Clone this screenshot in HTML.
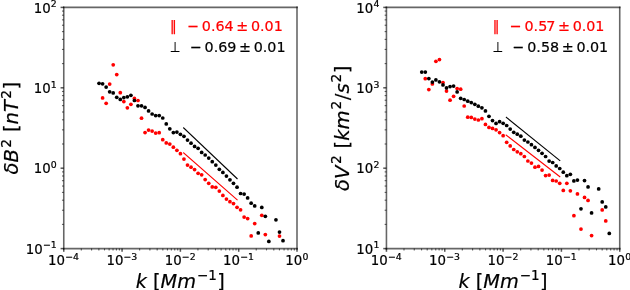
<!DOCTYPE html>
<html><head><meta charset="utf-8"><title>Power spectra</title>
<style>html,body{margin:0;padding:0;background:#fff;overflow:hidden}svg{display:block} svg text{stroke:#000;stroke-width:0.15px;stroke-linejoin:round} svg g[style*="ff0000"] text{stroke:#f00}</style>
</head><body>
<svg width="630" height="290" viewBox="0 0 453.6 208.8">
<defs>
<style type="text/css">*{stroke-linejoin: round; stroke-linecap: butt}</style>
</defs>
<g id="figure_1">
<g id="patch_1">
<path d="M 0 208.8 
L 453.6 208.8 
L 453.6 0 
L 0 0 
z
" style="fill: #ffffff"/>
</g>
<g id="axes_1">
<g id="patch_2">
<path d="M 45.9072 178.992 
L 213.84 178.992 
L 213.84 5.328 
L 45.9072 5.328 
z
" style="fill: #ffffff"/>
</g>
<g id="matplotlib.axis_1">
<g id="xtick_1">
<g id="line2d_1">
<g>
<path d="M 0 0 
L 0 2.3 
" transform="translate(45.9072 178.992)" style="fill-opacity: 0.66; stroke: #000000; stroke-opacity: 0.66; stroke-width: 1.1"/>
</g>
</g>
<g id="text_1">
<g transform="translate(34.6272 191.6865)">
<text>
<tspan x="0" y="-0.9766" style="font-size: 9.6px; font-family: 'DejaVu Sans', sans-serif">1</tspan>
<tspan x="6.123718" y="-0.9766" style="font-size: 9.6px; font-family: 'DejaVu Sans', sans-serif">0</tspan>
<tspan x="12.34314" y="-4.8047" style="font-size: 6.72px; font-family: 'DejaVu Sans', sans-serif">−</tspan>
<tspan x="17.988428" y="-4.8047" style="font-size: 6.72px; font-family: 'DejaVu Sans', sans-serif">4</tspan>
</text>
</g>
</g>
</g>
<g id="xtick_2">
<g id="line2d_2">
<g>
<path d="M 0 0 
L 0 2.3 
" transform="translate(87.8904 178.992)" style="fill-opacity: 0.66; stroke: #000000; stroke-opacity: 0.66; stroke-width: 1.1"/>
</g>
</g>
<g id="text_2">
<g transform="translate(76.6104 191.6865)">
<text>
<tspan x="0" y="-0.9766" style="font-size: 9.6px; font-family: 'DejaVu Sans', sans-serif">1</tspan>
<tspan x="6.123718" y="-0.9766" style="font-size: 9.6px; font-family: 'DejaVu Sans', sans-serif">0</tspan>
<tspan x="12.34314" y="-4.8047" style="font-size: 6.72px; font-family: 'DejaVu Sans', sans-serif">−</tspan>
<tspan x="17.988428" y="-4.8047" style="font-size: 6.72px; font-family: 'DejaVu Sans', sans-serif">3</tspan>
</text>
</g>
</g>
</g>
<g id="xtick_3">
<g id="line2d_3">
<g>
<path d="M 0 0 
L 0 2.3 
" transform="translate(129.8736 178.992)" style="fill-opacity: 0.66; stroke: #000000; stroke-opacity: 0.66; stroke-width: 1.1"/>
</g>
</g>
<g id="text_3">
<g transform="translate(118.5936 191.6865)">
<text>
<tspan x="0" y="-0.9766" style="font-size: 9.6px; font-family: 'DejaVu Sans', sans-serif">1</tspan>
<tspan x="6.123718" y="-0.9766" style="font-size: 9.6px; font-family: 'DejaVu Sans', sans-serif">0</tspan>
<tspan x="12.34314" y="-4.8047" style="font-size: 6.72px; font-family: 'DejaVu Sans', sans-serif">−</tspan>
<tspan x="17.988428" y="-4.8047" style="font-size: 6.72px; font-family: 'DejaVu Sans', sans-serif">2</tspan>
</text>
</g>
</g>
</g>
<g id="xtick_4">
<g id="line2d_4">
<g>
<path d="M 0 0 
L 0 2.3 
" transform="translate(171.8568 178.992)" style="fill-opacity: 0.66; stroke: #000000; stroke-opacity: 0.66; stroke-width: 1.1"/>
</g>
</g>
<g id="text_4">
<g transform="translate(160.5768 191.6865)">
<text>
<tspan x="0" y="-0.9766" style="font-size: 9.6px; font-family: 'DejaVu Sans', sans-serif">1</tspan>
<tspan x="6.123718" y="-0.9766" style="font-size: 9.6px; font-family: 'DejaVu Sans', sans-serif">0</tspan>
<tspan x="12.34314" y="-4.8047" style="font-size: 6.72px; font-family: 'DejaVu Sans', sans-serif">−</tspan>
<tspan x="17.988428" y="-4.8047" style="font-size: 6.72px; font-family: 'DejaVu Sans', sans-serif">1</tspan>
</text>
</g>
</g>
</g>
<g id="xtick_5">
<g id="line2d_5">
<g>
<path d="M 0 0 
L 0 2.3 
" transform="translate(213.84 178.992)" style="fill-opacity: 0.66; stroke: #000000; stroke-opacity: 0.66; stroke-width: 1.1"/>
</g>
</g>
<g id="text_5">
<g transform="translate(205.392 191.6865)">
<text>
<tspan x="0" y="-0.9766" style="font-size: 9.6px; font-family: 'DejaVu Sans', sans-serif">1</tspan>
<tspan x="6.123718" y="-0.9766" style="font-size: 9.6px; font-family: 'DejaVu Sans', sans-serif">0</tspan>
<tspan x="12.34314" y="-4.8047" style="font-size: 6.72px; font-family: 'DejaVu Sans', sans-serif">0</tspan>
</text>
</g>
</g>
</g>
<g id="xtick_6">
<g id="line2d_6">
<g>
<path d="M 0 0 
L 0 1.3 
" transform="translate(58.545403 178.992)" style="fill-opacity: 0.6; stroke: #000000; stroke-opacity: 0.6; stroke-width: 0.8"/>
</g>
</g>
</g>
<g id="xtick_7">
<g id="line2d_7">
<g>
<path d="M 0 0 
L 0 1.3 
" transform="translate(65.938277 178.992)" style="fill-opacity: 0.6; stroke: #000000; stroke-opacity: 0.6; stroke-width: 0.8"/>
</g>
</g>
</g>
<g id="xtick_8">
<g id="line2d_8">
<g>
<path d="M 0 0 
L 0 1.3 
" transform="translate(71.183605 178.992)" style="fill-opacity: 0.6; stroke: #000000; stroke-opacity: 0.6; stroke-width: 0.8"/>
</g>
</g>
</g>
<g id="xtick_9">
<g id="line2d_9">
<g>
<path d="M 0 0 
L 0 1.3 
" transform="translate(75.252197 178.992)" style="fill-opacity: 0.6; stroke: #000000; stroke-opacity: 0.6; stroke-width: 0.8"/>
</g>
</g>
</g>
<g id="xtick_10">
<g id="line2d_10">
<g>
<path d="M 0 0 
L 0 1.3 
" transform="translate(78.57648 178.992)" style="fill-opacity: 0.6; stroke: #000000; stroke-opacity: 0.6; stroke-width: 0.8"/>
</g>
</g>
</g>
<g id="xtick_11">
<g id="line2d_11">
<g>
<path d="M 0 0 
L 0 1.3 
" transform="translate(81.38712 178.992)" style="fill-opacity: 0.6; stroke: #000000; stroke-opacity: 0.6; stroke-width: 0.8"/>
</g>
</g>
</g>
<g id="xtick_12">
<g id="line2d_12">
<g>
<path d="M 0 0 
L 0 1.3 
" transform="translate(83.821808 178.992)" style="fill-opacity: 0.6; stroke: #000000; stroke-opacity: 0.6; stroke-width: 0.8"/>
</g>
</g>
</g>
<g id="xtick_13">
<g id="line2d_13">
<g>
<path d="M 0 0 
L 0 1.3 
" transform="translate(85.969354 178.992)" style="fill-opacity: 0.6; stroke: #000000; stroke-opacity: 0.6; stroke-width: 0.8"/>
</g>
</g>
</g>
<g id="xtick_14">
<g id="line2d_14">
<g>
<path d="M 0 0 
L 0 1.3 
" transform="translate(100.528603 178.992)" style="fill-opacity: 0.6; stroke: #000000; stroke-opacity: 0.6; stroke-width: 0.8"/>
</g>
</g>
</g>
<g id="xtick_15">
<g id="line2d_15">
<g>
<path d="M 0 0 
L 0 1.3 
" transform="translate(107.921477 178.992)" style="fill-opacity: 0.6; stroke: #000000; stroke-opacity: 0.6; stroke-width: 0.8"/>
</g>
</g>
</g>
<g id="xtick_16">
<g id="line2d_16">
<g>
<path d="M 0 0 
L 0 1.3 
" transform="translate(113.166805 178.992)" style="fill-opacity: 0.6; stroke: #000000; stroke-opacity: 0.6; stroke-width: 0.8"/>
</g>
</g>
</g>
<g id="xtick_17">
<g id="line2d_17">
<g>
<path d="M 0 0 
L 0 1.3 
" transform="translate(117.235397 178.992)" style="fill-opacity: 0.6; stroke: #000000; stroke-opacity: 0.6; stroke-width: 0.8"/>
</g>
</g>
</g>
<g id="xtick_18">
<g id="line2d_18">
<g>
<path d="M 0 0 
L 0 1.3 
" transform="translate(120.55968 178.992)" style="fill-opacity: 0.6; stroke: #000000; stroke-opacity: 0.6; stroke-width: 0.8"/>
</g>
</g>
</g>
<g id="xtick_19">
<g id="line2d_19">
<g>
<path d="M 0 0 
L 0 1.3 
" transform="translate(123.37032 178.992)" style="fill-opacity: 0.6; stroke: #000000; stroke-opacity: 0.6; stroke-width: 0.8"/>
</g>
</g>
</g>
<g id="xtick_20">
<g id="line2d_20">
<g>
<path d="M 0 0 
L 0 1.3 
" transform="translate(125.805008 178.992)" style="fill-opacity: 0.6; stroke: #000000; stroke-opacity: 0.6; stroke-width: 0.8"/>
</g>
</g>
</g>
<g id="xtick_21">
<g id="line2d_21">
<g>
<path d="M 0 0 
L 0 1.3 
" transform="translate(127.952554 178.992)" style="fill-opacity: 0.6; stroke: #000000; stroke-opacity: 0.6; stroke-width: 0.8"/>
</g>
</g>
</g>
<g id="xtick_22">
<g id="line2d_22">
<g>
<path d="M 0 0 
L 0 1.3 
" transform="translate(142.511803 178.992)" style="fill-opacity: 0.6; stroke: #000000; stroke-opacity: 0.6; stroke-width: 0.8"/>
</g>
</g>
</g>
<g id="xtick_23">
<g id="line2d_23">
<g>
<path d="M 0 0 
L 0 1.3 
" transform="translate(149.904677 178.992)" style="fill-opacity: 0.6; stroke: #000000; stroke-opacity: 0.6; stroke-width: 0.8"/>
</g>
</g>
</g>
<g id="xtick_24">
<g id="line2d_24">
<g>
<path d="M 0 0 
L 0 1.3 
" transform="translate(155.150005 178.992)" style="fill-opacity: 0.6; stroke: #000000; stroke-opacity: 0.6; stroke-width: 0.8"/>
</g>
</g>
</g>
<g id="xtick_25">
<g id="line2d_25">
<g>
<path d="M 0 0 
L 0 1.3 
" transform="translate(159.218597 178.992)" style="fill-opacity: 0.6; stroke: #000000; stroke-opacity: 0.6; stroke-width: 0.8"/>
</g>
</g>
</g>
<g id="xtick_26">
<g id="line2d_26">
<g>
<path d="M 0 0 
L 0 1.3 
" transform="translate(162.54288 178.992)" style="fill-opacity: 0.6; stroke: #000000; stroke-opacity: 0.6; stroke-width: 0.8"/>
</g>
</g>
</g>
<g id="xtick_27">
<g id="line2d_27">
<g>
<path d="M 0 0 
L 0 1.3 
" transform="translate(165.35352 178.992)" style="fill-opacity: 0.6; stroke: #000000; stroke-opacity: 0.6; stroke-width: 0.8"/>
</g>
</g>
</g>
<g id="xtick_28">
<g id="line2d_28">
<g>
<path d="M 0 0 
L 0 1.3 
" transform="translate(167.788208 178.992)" style="fill-opacity: 0.6; stroke: #000000; stroke-opacity: 0.6; stroke-width: 0.8"/>
</g>
</g>
</g>
<g id="xtick_29">
<g id="line2d_29">
<g>
<path d="M 0 0 
L 0 1.3 
" transform="translate(169.935754 178.992)" style="fill-opacity: 0.6; stroke: #000000; stroke-opacity: 0.6; stroke-width: 0.8"/>
</g>
</g>
</g>
<g id="xtick_30">
<g id="line2d_30">
<g>
<path d="M 0 0 
L 0 1.3 
" transform="translate(184.495003 178.992)" style="fill-opacity: 0.6; stroke: #000000; stroke-opacity: 0.6; stroke-width: 0.8"/>
</g>
</g>
</g>
<g id="xtick_31">
<g id="line2d_31">
<g>
<path d="M 0 0 
L 0 1.3 
" transform="translate(191.887877 178.992)" style="fill-opacity: 0.6; stroke: #000000; stroke-opacity: 0.6; stroke-width: 0.8"/>
</g>
</g>
</g>
<g id="xtick_32">
<g id="line2d_32">
<g>
<path d="M 0 0 
L 0 1.3 
" transform="translate(197.133205 178.992)" style="fill-opacity: 0.6; stroke: #000000; stroke-opacity: 0.6; stroke-width: 0.8"/>
</g>
</g>
</g>
<g id="xtick_33">
<g id="line2d_33">
<g>
<path d="M 0 0 
L 0 1.3 
" transform="translate(201.201797 178.992)" style="fill-opacity: 0.6; stroke: #000000; stroke-opacity: 0.6; stroke-width: 0.8"/>
</g>
</g>
</g>
<g id="xtick_34">
<g id="line2d_34">
<g>
<path d="M 0 0 
L 0 1.3 
" transform="translate(204.52608 178.992)" style="fill-opacity: 0.6; stroke: #000000; stroke-opacity: 0.6; stroke-width: 0.8"/>
</g>
</g>
</g>
<g id="xtick_35">
<g id="line2d_35">
<g>
<path d="M 0 0 
L 0 1.3 
" transform="translate(207.33672 178.992)" style="fill-opacity: 0.6; stroke: #000000; stroke-opacity: 0.6; stroke-width: 0.8"/>
</g>
</g>
</g>
<g id="xtick_36">
<g id="line2d_36">
<g>
<path d="M 0 0 
L 0 1.3 
" transform="translate(209.771408 178.992)" style="fill-opacity: 0.6; stroke: #000000; stroke-opacity: 0.6; stroke-width: 0.8"/>
</g>
</g>
</g>
<g id="xtick_37">
<g id="line2d_37">
<g>
<path d="M 0 0 
L 0 1.3 
" transform="translate(211.918954 178.992)" style="fill-opacity: 0.6; stroke: #000000; stroke-opacity: 0.6; stroke-width: 0.8"/>
</g>
</g>
</g>
<g id="text_6">
<g transform="translate(97.6951 207.648234)">
<text>
<tspan x="0" y="-0.498438" style="font-style: oblique; font-size: 13.9px; font-family: 'DejaVu Sans', sans-serif">k</tspan>
<tspan x="17.953446" y="-0.498438" style="font-style: oblique; font-size: 13.9px; font-family: 'DejaVu Sans', sans-serif">M</tspan>
<tspan x="29.924699" y="-0.498438" style="font-style: oblique; font-size: 13.9px; font-family: 'DejaVu Sans', sans-serif">m</tspan>
<tspan x="12.540299" y="-0.498438" style="font-size: 13.9px; font-family: 'DejaVu Sans', sans-serif">[</tspan>
<tspan x="58.792353" y="-0.498438" style="font-size: 13.9px; font-family: 'DejaVu Sans', sans-serif">]</tspan>
<tspan x="44.092139" y="-5.857813" style="font-size: 9.73px; font-family: 'DejaVu Sans', sans-serif">−</tspan>
<tspan x="52.230152" y="-5.857813" style="font-size: 9.73px; font-family: 'DejaVu Sans', sans-serif">1</tspan>
</text>
</g>
</g>
</g>
<g id="matplotlib.axis_2">
<g id="ytick_1">
<g id="line2d_38">
<g>
<path d="M 0 0 
L -2.3 0 
" transform="translate(45.9072 178.992)" style="fill-opacity: 0.66; stroke: #000000; stroke-opacity: 0.66; stroke-width: 1.1"/>
</g>
</g>
<g id="text_7">
<g transform="translate(18.5472 182.63925)">
<text>
<tspan x="0" y="0.0859" style="font-size: 9.6px; font-family: 'DejaVu Sans', sans-serif">1</tspan>
<tspan x="6.123718" y="0.0859" style="font-size: 9.6px; font-family: 'DejaVu Sans', sans-serif">0</tspan>
<tspan x="12.34314" y="-3.7422" style="font-size: 6.72px; font-family: 'DejaVu Sans', sans-serif">−</tspan>
<tspan x="17.988428" y="-3.7422" style="font-size: 6.72px; font-family: 'DejaVu Sans', sans-serif">1</tspan>
</text>
</g>
</g>
</g>
<g id="ytick_2">
<g id="line2d_39">
<g>
<path d="M 0 0 
L -2.3 0 
" transform="translate(45.9072 121.104)" style="fill-opacity: 0.66; stroke: #000000; stroke-opacity: 0.66; stroke-width: 1.1"/>
</g>
</g>
<g id="text_8">
<g transform="translate(24.2112 124.75125)">
<text>
<tspan x="0" y="0.0859" style="font-size: 9.6px; font-family: 'DejaVu Sans', sans-serif">1</tspan>
<tspan x="6.123718" y="0.0859" style="font-size: 9.6px; font-family: 'DejaVu Sans', sans-serif">0</tspan>
<tspan x="12.34314" y="-3.7422" style="font-size: 6.72px; font-family: 'DejaVu Sans', sans-serif">0</tspan>
</text>
</g>
</g>
</g>
<g id="ytick_3">
<g id="line2d_40">
<g>
<path d="M 0 0 
L -2.3 0 
" transform="translate(45.9072 63.216)" style="fill-opacity: 0.66; stroke: #000000; stroke-opacity: 0.66; stroke-width: 1.1"/>
</g>
</g>
<g id="text_9">
<g transform="translate(24.2112 66.86325)">
<text>
<tspan x="0" y="0.0859" style="font-size: 9.6px; font-family: 'DejaVu Sans', sans-serif">1</tspan>
<tspan x="6.123718" y="0.0859" style="font-size: 9.6px; font-family: 'DejaVu Sans', sans-serif">0</tspan>
<tspan x="12.34314" y="-3.7422" style="font-size: 6.72px; font-family: 'DejaVu Sans', sans-serif">1</tspan>
</text>
</g>
</g>
</g>
<g id="ytick_4">
<g id="line2d_41">
<g>
<path d="M 0 0 
L -2.3 0 
" transform="translate(45.9072 5.328)" style="fill-opacity: 0.66; stroke: #000000; stroke-opacity: 0.66; stroke-width: 1.1"/>
</g>
</g>
<g id="text_10">
<g transform="translate(24.2112 8.97525)">
<text>
<tspan x="0" y="0.0859" style="font-size: 9.6px; font-family: 'DejaVu Sans', sans-serif">1</tspan>
<tspan x="6.123718" y="0.0859" style="font-size: 9.6px; font-family: 'DejaVu Sans', sans-serif">0</tspan>
<tspan x="12.34314" y="-3.7422" style="font-size: 6.72px; font-family: 'DejaVu Sans', sans-serif">2</tspan>
</text>
</g>
</g>
</g>
<g id="ytick_5">
<g id="line2d_42">
<g>
<path d="M 0 0 
L -1.3 0 
" transform="translate(45.9072 161.565976)" style="fill-opacity: 0.6; stroke: #000000; stroke-opacity: 0.6; stroke-width: 0.8"/>
</g>
</g>
</g>
<g id="ytick_6">
<g id="line2d_43">
<g>
<path d="M 0 0 
L -1.3 0 
" transform="translate(45.9072 151.372405)" style="fill-opacity: 0.6; stroke: #000000; stroke-opacity: 0.6; stroke-width: 0.8"/>
</g>
</g>
</g>
<g id="ytick_7">
<g id="line2d_44">
<g>
<path d="M 0 0 
L -1.3 0 
" transform="translate(45.9072 144.139951)" style="fill-opacity: 0.6; stroke: #000000; stroke-opacity: 0.6; stroke-width: 0.8"/>
</g>
</g>
</g>
<g id="ytick_8">
<g id="line2d_45">
<g>
<path d="M 0 0 
L -1.3 0 
" transform="translate(45.9072 138.530024)" style="fill-opacity: 0.6; stroke: #000000; stroke-opacity: 0.6; stroke-width: 0.8"/>
</g>
</g>
</g>
<g id="ytick_9">
<g id="line2d_46">
<g>
<path d="M 0 0 
L -1.3 0 
" transform="translate(45.9072 133.94638)" style="fill-opacity: 0.6; stroke: #000000; stroke-opacity: 0.6; stroke-width: 0.8"/>
</g>
</g>
</g>
<g id="ytick_10">
<g id="line2d_47">
<g>
<path d="M 0 0 
L -1.3 0 
" transform="translate(45.9072 130.070965)" style="fill-opacity: 0.6; stroke: #000000; stroke-opacity: 0.6; stroke-width: 0.8"/>
</g>
</g>
</g>
<g id="ytick_11">
<g id="line2d_48">
<g>
<path d="M 0 0 
L -1.3 0 
" transform="translate(45.9072 126.713927)" style="fill-opacity: 0.6; stroke: #000000; stroke-opacity: 0.6; stroke-width: 0.8"/>
</g>
</g>
</g>
<g id="ytick_12">
<g id="line2d_49">
<g>
<path d="M 0 0 
L -1.3 0 
" transform="translate(45.9072 123.75281)" style="fill-opacity: 0.6; stroke: #000000; stroke-opacity: 0.6; stroke-width: 0.8"/>
</g>
</g>
</g>
<g id="ytick_13">
<g id="line2d_50">
<g>
<path d="M 0 0 
L -1.3 0 
" transform="translate(45.9072 103.677976)" style="fill-opacity: 0.6; stroke: #000000; stroke-opacity: 0.6; stroke-width: 0.8"/>
</g>
</g>
</g>
<g id="ytick_14">
<g id="line2d_51">
<g>
<path d="M 0 0 
L -1.3 0 
" transform="translate(45.9072 93.484405)" style="fill-opacity: 0.6; stroke: #000000; stroke-opacity: 0.6; stroke-width: 0.8"/>
</g>
</g>
</g>
<g id="ytick_15">
<g id="line2d_52">
<g>
<path d="M 0 0 
L -1.3 0 
" transform="translate(45.9072 86.251951)" style="fill-opacity: 0.6; stroke: #000000; stroke-opacity: 0.6; stroke-width: 0.8"/>
</g>
</g>
</g>
<g id="ytick_16">
<g id="line2d_53">
<g>
<path d="M 0 0 
L -1.3 0 
" transform="translate(45.9072 80.642024)" style="fill-opacity: 0.6; stroke: #000000; stroke-opacity: 0.6; stroke-width: 0.8"/>
</g>
</g>
</g>
<g id="ytick_17">
<g id="line2d_54">
<g>
<path d="M 0 0 
L -1.3 0 
" transform="translate(45.9072 76.05838)" style="fill-opacity: 0.6; stroke: #000000; stroke-opacity: 0.6; stroke-width: 0.8"/>
</g>
</g>
</g>
<g id="ytick_18">
<g id="line2d_55">
<g>
<path d="M 0 0 
L -1.3 0 
" transform="translate(45.9072 72.182965)" style="fill-opacity: 0.6; stroke: #000000; stroke-opacity: 0.6; stroke-width: 0.8"/>
</g>
</g>
</g>
<g id="ytick_19">
<g id="line2d_56">
<g>
<path d="M 0 0 
L -1.3 0 
" transform="translate(45.9072 68.825927)" style="fill-opacity: 0.6; stroke: #000000; stroke-opacity: 0.6; stroke-width: 0.8"/>
</g>
</g>
</g>
<g id="ytick_20">
<g id="line2d_57">
<g>
<path d="M 0 0 
L -1.3 0 
" transform="translate(45.9072 65.86481)" style="fill-opacity: 0.6; stroke: #000000; stroke-opacity: 0.6; stroke-width: 0.8"/>
</g>
</g>
</g>
<g id="ytick_21">
<g id="line2d_58">
<g>
<path d="M 0 0 
L -1.3 0 
" transform="translate(45.9072 45.789976)" style="fill-opacity: 0.6; stroke: #000000; stroke-opacity: 0.6; stroke-width: 0.8"/>
</g>
</g>
</g>
<g id="ytick_22">
<g id="line2d_59">
<g>
<path d="M 0 0 
L -1.3 0 
" transform="translate(45.9072 35.596405)" style="fill-opacity: 0.6; stroke: #000000; stroke-opacity: 0.6; stroke-width: 0.8"/>
</g>
</g>
</g>
<g id="ytick_23">
<g id="line2d_60">
<g>
<path d="M 0 0 
L -1.3 0 
" transform="translate(45.9072 28.363951)" style="fill-opacity: 0.6; stroke: #000000; stroke-opacity: 0.6; stroke-width: 0.8"/>
</g>
</g>
</g>
<g id="ytick_24">
<g id="line2d_61">
<g>
<path d="M 0 0 
L -1.3 0 
" transform="translate(45.9072 22.754024)" style="fill-opacity: 0.6; stroke: #000000; stroke-opacity: 0.6; stroke-width: 0.8"/>
</g>
</g>
</g>
<g id="ytick_25">
<g id="line2d_62">
<g>
<path d="M 0 0 
L -1.3 0 
" transform="translate(45.9072 18.17038)" style="fill-opacity: 0.6; stroke: #000000; stroke-opacity: 0.6; stroke-width: 0.8"/>
</g>
</g>
</g>
<g id="ytick_26">
<g id="line2d_63">
<g>
<path d="M 0 0 
L -1.3 0 
" transform="translate(45.9072 14.294965)" style="fill-opacity: 0.6; stroke: #000000; stroke-opacity: 0.6; stroke-width: 0.8"/>
</g>
</g>
</g>
<g id="ytick_27">
<g id="line2d_64">
<g>
<path d="M 0 0 
L -1.3 0 
" transform="translate(45.9072 10.937927)" style="fill-opacity: 0.6; stroke: #000000; stroke-opacity: 0.6; stroke-width: 0.8"/>
</g>
</g>
</g>
<g id="ytick_28">
<g id="line2d_65">
<g>
<path d="M 0 0 
L -1.3 0 
" transform="translate(45.9072 7.97681)" style="fill-opacity: 0.6; stroke: #000000; stroke-opacity: 0.6; stroke-width: 0.8"/>
</g>
</g>
</g>
<g id="text_11">
<g transform="translate(13.604442 125.6955) rotate(-90)">
<text>
<tspan x="0" y="-0.367188" style="font-style: oblique; font-size: 14.15px; font-family: 'DejaVu Sans', sans-serif">δ</tspan>
<tspan x="8.641907" y="-0.367188" style="font-style: oblique; font-size: 14.15px; font-family: 'DejaVu Sans', sans-serif">B</tspan>
<tspan x="36.08464" y="-0.367188" style="font-style: oblique; font-size: 14.15px; font-family: 'DejaVu Sans', sans-serif">n</tspan>
<tspan x="45.03691" y="-0.367188" style="font-style: oblique; font-size: 14.15px; font-family: 'DejaVu Sans', sans-serif">T</tspan>
<tspan x="19.313976" y="-5.726562" style="font-size: 9.905px; font-family: 'DejaVu Sans', sans-serif">2</tspan>
<tspan x="54.646846" y="-5.726562" style="font-size: 9.905px; font-family: 'DejaVu Sans', sans-serif">2</tspan>
<tspan x="30.573958" y="-0.367188" style="font-size: 14.15px; font-family: 'DejaVu Sans', sans-serif">[</tspan>
<tspan x="61.320387" y="-0.367188" style="font-size: 14.15px; font-family: 'DejaVu Sans', sans-serif">]</tspan>
</text>
</g>
</g>
</g>
<g id="line2d_66">
<g clip-path="url(#p9e768e306a)">
<circle cx="73.870253" cy="70.488" r="1.35" style="fill: #ff0000"/>
<circle cx="76.417306" cy="74.376" r="1.35" style="fill: #ff0000"/>
<circle cx="78.964358" cy="60.48" r="1.35" style="fill: #ff0000"/>
<circle cx="81.511411" cy="46.656" r="1.35" style="fill: #ff0000"/>
<circle cx="84.058464" cy="53.64" r="1.35" style="fill: #ff0000"/>
<circle cx="86.605517" cy="66.744" r="1.35" style="fill: #ff0000"/>
<circle cx="89.152569" cy="73.152" r="1.35" style="fill: #ff0000"/>
<circle cx="91.699622" cy="77.616" r="1.35" style="fill: #ff0000"/>
<circle cx="94.246675" cy="75.096" r="1.35" style="fill: #ff0000"/>
<circle cx="96.793728" cy="70.848" r="1.35" style="fill: #ff0000"/>
<circle cx="99.34078" cy="72.36" r="1.35" style="fill: #ff0000"/>
<circle cx="101.887833" cy="85.104" r="1.35" style="fill: #ff0000"/>
<circle cx="104.434886" cy="95.472" r="1.35" style="fill: #ff0000"/>
<circle cx="106.981939" cy="93.672" r="1.35" style="fill: #ff0000"/>
<circle cx="109.528991" cy="94.32" r="1.35" style="fill: #ff0000"/>
<circle cx="112.076044" cy="95.76" r="1.35" style="fill: #ff0000"/>
<circle cx="114.623097" cy="95.544" r="1.35" style="fill: #ff0000"/>
<circle cx="117.17015" cy="100.584" r="1.35" style="fill: #ff0000"/>
<circle cx="119.717202" cy="102.888" r="1.35" style="fill: #ff0000"/>
<circle cx="122.264255" cy="103.752" r="1.35" style="fill: #ff0000"/>
<circle cx="124.811308" cy="105.984" r="1.35" style="fill: #ff0000"/>
<circle cx="127.358361" cy="108.216" r="1.35" style="fill: #ff0000"/>
<circle cx="129.905413" cy="110.664" r="1.35" style="fill: #ff0000"/>
<circle cx="132.452466" cy="114.552" r="1.35" style="fill: #ff0000"/>
<circle cx="134.999519" cy="118.8" r="1.35" style="fill: #ff0000"/>
<circle cx="137.546572" cy="120.384" r="1.35" style="fill: #ff0000"/>
<circle cx="140.093624" cy="122.04" r="1.35" style="fill: #ff0000"/>
<circle cx="142.640677" cy="124.776" r="1.35" style="fill: #ff0000"/>
<circle cx="145.18773" cy="125.856" r="1.35" style="fill: #ff0000"/>
<circle cx="147.734783" cy="129.24" r="1.35" style="fill: #ff0000"/>
<circle cx="150.281835" cy="131.976" r="1.35" style="fill: #ff0000"/>
<circle cx="152.828888" cy="134.568" r="1.35" style="fill: #ff0000"/>
<circle cx="155.375941" cy="134.856" r="1.35" style="fill: #ff0000"/>
<circle cx="157.922994" cy="137.592" r="1.35" style="fill: #ff0000"/>
<circle cx="160.470046" cy="140.76" r="1.35" style="fill: #ff0000"/>
<circle cx="163.017099" cy="143.352" r="1.35" style="fill: #ff0000"/>
<circle cx="165.564152" cy="145.224" r="1.35" style="fill: #ff0000"/>
<circle cx="168.111205" cy="146.592" r="1.35" style="fill: #ff0000"/>
<circle cx="170.658257" cy="149.256" r="1.35" style="fill: #ff0000"/>
<circle cx="173.20531" cy="151.056" r="1.35" style="fill: #ff0000"/>
<circle cx="175.752363" cy="156.312" r="1.35" style="fill: #ff0000"/>
<circle cx="178.299416" cy="157.392" r="1.35" style="fill: #ff0000"/>
<circle cx="180.846468" cy="169.92" r="1.35" style="fill: #ff0000"/>
<circle cx="183.393521" cy="160.992" r="1.35" style="fill: #ff0000"/>
<circle cx="188.487627" cy="155.016" r="1.35" style="fill: #ff0000"/>
<circle cx="191.034679" cy="168.912" r="1.35" style="fill: #ff0000"/>
<circle cx="201.22289" cy="169.992" r="1.35" style="fill: #ff0000"/>
</g>
</g>
<g id="line2d_67">
<g clip-path="url(#p9e768e306a)">
<circle cx="71.3232" cy="59.976" r="1.35"/>
<circle cx="73.870253" cy="60.336" r="1.35"/>
<circle cx="76.417306" cy="62.712" r="1.35"/>
<circle cx="78.964358" cy="66.096" r="1.35"/>
<circle cx="81.511411" cy="66.888" r="1.35"/>
<circle cx="84.058464" cy="70.056" r="1.35"/>
<circle cx="86.605517" cy="71.568" r="1.35"/>
<circle cx="89.152569" cy="70.272" r="1.35"/>
<circle cx="91.699622" cy="69.696" r="1.35"/>
<circle cx="94.246675" cy="68.616" r="1.35"/>
<circle cx="96.793728" cy="72.36" r="1.35"/>
<circle cx="99.34078" cy="76.176" r="1.35"/>
<circle cx="101.887833" cy="76.176" r="1.35"/>
<circle cx="104.434886" cy="77.328" r="1.35"/>
<circle cx="106.981939" cy="79.92" r="1.35"/>
<circle cx="109.528991" cy="82.08" r="1.35"/>
<circle cx="112.076044" cy="83.16" r="1.35"/>
<circle cx="114.623097" cy="83.16" r="1.35"/>
<circle cx="117.17015" cy="84.96" r="1.35"/>
<circle cx="119.717202" cy="89.208" r="1.35"/>
<circle cx="122.264255" cy="92.736" r="1.35"/>
<circle cx="124.811308" cy="95.4" r="1.35"/>
<circle cx="127.358361" cy="95.04" r="1.35"/>
<circle cx="129.905413" cy="96.696" r="1.35"/>
<circle cx="132.452466" cy="98.136" r="1.35"/>
<circle cx="134.999519" cy="100.8" r="1.35"/>
<circle cx="137.546572" cy="103.104" r="1.35"/>
<circle cx="140.093624" cy="105.408" r="1.35"/>
<circle cx="142.640677" cy="106.776" r="1.35"/>
<circle cx="145.18773" cy="109.728" r="1.35"/>
<circle cx="147.734783" cy="111.6" r="1.35"/>
<circle cx="150.281835" cy="113.76" r="1.35"/>
<circle cx="152.828888" cy="116.424" r="1.35"/>
<circle cx="155.375941" cy="118.872" r="1.35"/>
<circle cx="157.922994" cy="121.896" r="1.35"/>
<circle cx="160.470046" cy="124.2" r="1.35"/>
<circle cx="163.017099" cy="126.72" r="1.35"/>
<circle cx="165.564152" cy="129.456" r="1.35"/>
<circle cx="168.111205" cy="131.976" r="1.35"/>
<circle cx="170.658257" cy="134.784" r="1.35"/>
<circle cx="173.20531" cy="139.32" r="1.35"/>
<circle cx="175.752363" cy="139.752" r="1.35"/>
<circle cx="178.299416" cy="142.56" r="1.35"/>
<circle cx="180.846468" cy="146.304" r="1.35"/>
<circle cx="183.393521" cy="148.248" r="1.35"/>
<circle cx="185.940574" cy="167.688" r="1.35"/>
<circle cx="188.487627" cy="149.328" r="1.35"/>
<circle cx="191.034679" cy="155.736" r="1.35"/>
<circle cx="193.581732" cy="173.88" r="1.35"/>
<circle cx="198.675838" cy="158.256" r="1.35"/>
<circle cx="201.22289" cy="167.112" r="1.35"/>
<circle cx="203.769943" cy="173.304" r="1.35"/>
</g>
</g>
<g id="line2d_68">
<path d="M 132.264 92.088 
L 170.712 128.592 
" clip-path="url(#p9e768e306a)" style="fill: none; stroke: #000000; stroke-width: 0.8; stroke-linecap: square"/>
</g>
<g id="line2d_69">
<path d="M 132.264 110.088 
L 170.712 143.856 
" clip-path="url(#p9e768e306a)" style="fill: none; stroke: #ff0000; stroke-width: 0.8; stroke-linecap: square"/>
</g>
<g id="patch_3">
<path d="M 45.9072 178.992 
L 45.9072 5.328 
" style="fill: none; stroke: #000000; stroke-opacity: 0.6; stroke-width: 1.15; stroke-linejoin: miter; stroke-linecap: square"/>
</g>
<g id="patch_4">
<path d="M 213.84 178.992 
L 213.84 5.328 
" style="fill: none; stroke: #000000; stroke-opacity: 0.6; stroke-width: 1.15; stroke-linejoin: miter; stroke-linecap: square"/>
</g>
<g id="patch_5">
<path d="M 45.9072 178.992 
L 213.84 178.992 
" style="fill: none; stroke: #000000; stroke-opacity: 0.6; stroke-width: 1.15; stroke-linejoin: miter; stroke-linecap: square"/>
</g>
<g id="patch_6">
<path d="M 45.9072 5.328 
L 213.84 5.328 
" style="fill: none; stroke: #000000; stroke-opacity: 0.6; stroke-width: 1.15; stroke-linejoin: miter; stroke-linecap: square"/>
</g>
</g>
<g id="axes_2">
<g id="patch_7">
<path d="M 278.2368 178.992 
L 446.2056 178.992 
L 446.2056 5.328 
L 278.2368 5.328 
z
" style="fill: #ffffff"/>
</g>
<g id="matplotlib.axis_3">
<g id="xtick_38">
<g id="line2d_70">
<g>
<path d="M 0 0 
L 0 2.3 
" transform="translate(278.2368 178.992)" style="fill-opacity: 0.66; stroke: #000000; stroke-opacity: 0.66; stroke-width: 1.1"/>
</g>
</g>
<g id="text_12">
<g transform="translate(266.9568 191.6865)">
<text>
<tspan x="0" y="-0.9766" style="font-size: 9.6px; font-family: 'DejaVu Sans', sans-serif">1</tspan>
<tspan x="6.123718" y="-0.9766" style="font-size: 9.6px; font-family: 'DejaVu Sans', sans-serif">0</tspan>
<tspan x="12.34314" y="-4.8047" style="font-size: 6.72px; font-family: 'DejaVu Sans', sans-serif">−</tspan>
<tspan x="17.988428" y="-4.8047" style="font-size: 6.72px; font-family: 'DejaVu Sans', sans-serif">4</tspan>
</text>
</g>
</g>
</g>
<g id="xtick_39">
<g id="line2d_71">
<g>
<path d="M 0 0 
L 0 2.3 
" transform="translate(320.229 178.992)" style="fill-opacity: 0.66; stroke: #000000; stroke-opacity: 0.66; stroke-width: 1.1"/>
</g>
</g>
<g id="text_13">
<g transform="translate(308.949 191.6865)">
<text>
<tspan x="0" y="-0.9766" style="font-size: 9.6px; font-family: 'DejaVu Sans', sans-serif">1</tspan>
<tspan x="6.123718" y="-0.9766" style="font-size: 9.6px; font-family: 'DejaVu Sans', sans-serif">0</tspan>
<tspan x="12.34314" y="-4.8047" style="font-size: 6.72px; font-family: 'DejaVu Sans', sans-serif">−</tspan>
<tspan x="17.988428" y="-4.8047" style="font-size: 6.72px; font-family: 'DejaVu Sans', sans-serif">3</tspan>
</text>
</g>
</g>
</g>
<g id="xtick_40">
<g id="line2d_72">
<g>
<path d="M 0 0 
L 0 2.3 
" transform="translate(362.2212 178.992)" style="fill-opacity: 0.66; stroke: #000000; stroke-opacity: 0.66; stroke-width: 1.1"/>
</g>
</g>
<g id="text_14">
<g transform="translate(350.9412 191.6865)">
<text>
<tspan x="0" y="-0.9766" style="font-size: 9.6px; font-family: 'DejaVu Sans', sans-serif">1</tspan>
<tspan x="6.123718" y="-0.9766" style="font-size: 9.6px; font-family: 'DejaVu Sans', sans-serif">0</tspan>
<tspan x="12.34314" y="-4.8047" style="font-size: 6.72px; font-family: 'DejaVu Sans', sans-serif">−</tspan>
<tspan x="17.988428" y="-4.8047" style="font-size: 6.72px; font-family: 'DejaVu Sans', sans-serif">2</tspan>
</text>
</g>
</g>
</g>
<g id="xtick_41">
<g id="line2d_73">
<g>
<path d="M 0 0 
L 0 2.3 
" transform="translate(404.2134 178.992)" style="fill-opacity: 0.66; stroke: #000000; stroke-opacity: 0.66; stroke-width: 1.1"/>
</g>
</g>
<g id="text_15">
<g transform="translate(392.9334 191.6865)">
<text>
<tspan x="0" y="-0.9766" style="font-size: 9.6px; font-family: 'DejaVu Sans', sans-serif">1</tspan>
<tspan x="6.123718" y="-0.9766" style="font-size: 9.6px; font-family: 'DejaVu Sans', sans-serif">0</tspan>
<tspan x="12.34314" y="-4.8047" style="font-size: 6.72px; font-family: 'DejaVu Sans', sans-serif">−</tspan>
<tspan x="17.988428" y="-4.8047" style="font-size: 6.72px; font-family: 'DejaVu Sans', sans-serif">1</tspan>
</text>
</g>
</g>
</g>
<g id="xtick_42">
<g id="line2d_74">
<g>
<path d="M 0 0 
L 0 2.3 
" transform="translate(446.2056 178.992)" style="fill-opacity: 0.66; stroke: #000000; stroke-opacity: 0.66; stroke-width: 1.1"/>
</g>
</g>
<g id="text_16">
<g transform="translate(437.7576 191.6865)">
<text>
<tspan x="0" y="-0.9766" style="font-size: 9.6px; font-family: 'DejaVu Sans', sans-serif">1</tspan>
<tspan x="6.123718" y="-0.9766" style="font-size: 9.6px; font-family: 'DejaVu Sans', sans-serif">0</tspan>
<tspan x="12.34314" y="-4.8047" style="font-size: 6.72px; font-family: 'DejaVu Sans', sans-serif">0</tspan>
</text>
</g>
</g>
</g>
<g id="xtick_43">
<g id="line2d_75">
<g>
<path d="M 0 0 
L 0 1.3 
" transform="translate(290.877712 178.992)" style="fill-opacity: 0.6; stroke: #000000; stroke-opacity: 0.6; stroke-width: 0.8"/>
</g>
</g>
</g>
<g id="xtick_44">
<g id="line2d_76">
<g>
<path d="M 0 0 
L 0 1.3 
" transform="translate(298.272171 178.992)" style="fill-opacity: 0.6; stroke: #000000; stroke-opacity: 0.6; stroke-width: 0.8"/>
</g>
</g>
</g>
<g id="xtick_45">
<g id="line2d_77">
<g>
<path d="M 0 0 
L 0 1.3 
" transform="translate(303.518624 178.992)" style="fill-opacity: 0.6; stroke: #000000; stroke-opacity: 0.6; stroke-width: 0.8"/>
</g>
</g>
</g>
<g id="xtick_46">
<g id="line2d_78">
<g>
<path d="M 0 0 
L 0 1.3 
" transform="translate(307.588088 178.992)" style="fill-opacity: 0.6; stroke: #000000; stroke-opacity: 0.6; stroke-width: 0.8"/>
</g>
</g>
</g>
<g id="xtick_47">
<g id="line2d_79">
<g>
<path d="M 0 0 
L 0 1.3 
" transform="translate(310.913083 178.992)" style="fill-opacity: 0.6; stroke: #000000; stroke-opacity: 0.6; stroke-width: 0.8"/>
</g>
</g>
</g>
<g id="xtick_48">
<g id="line2d_80">
<g>
<path d="M 0 0 
L 0 1.3 
" transform="translate(313.724326 178.992)" style="fill-opacity: 0.6; stroke: #000000; stroke-opacity: 0.6; stroke-width: 0.8"/>
</g>
</g>
</g>
<g id="xtick_49">
<g id="line2d_81">
<g>
<path d="M 0 0 
L 0 1.3 
" transform="translate(316.159535 178.992)" style="fill-opacity: 0.6; stroke: #000000; stroke-opacity: 0.6; stroke-width: 0.8"/>
</g>
</g>
</g>
<g id="xtick_50">
<g id="line2d_82">
<g>
<path d="M 0 0 
L 0 1.3 
" transform="translate(318.307542 178.992)" style="fill-opacity: 0.6; stroke: #000000; stroke-opacity: 0.6; stroke-width: 0.8"/>
</g>
</g>
</g>
<g id="xtick_51">
<g id="line2d_83">
<g>
<path d="M 0 0 
L 0 1.3 
" transform="translate(332.869912 178.992)" style="fill-opacity: 0.6; stroke: #000000; stroke-opacity: 0.6; stroke-width: 0.8"/>
</g>
</g>
</g>
<g id="xtick_52">
<g id="line2d_84">
<g>
<path d="M 0 0 
L 0 1.3 
" transform="translate(340.264371 178.992)" style="fill-opacity: 0.6; stroke: #000000; stroke-opacity: 0.6; stroke-width: 0.8"/>
</g>
</g>
</g>
<g id="xtick_53">
<g id="line2d_85">
<g>
<path d="M 0 0 
L 0 1.3 
" transform="translate(345.510824 178.992)" style="fill-opacity: 0.6; stroke: #000000; stroke-opacity: 0.6; stroke-width: 0.8"/>
</g>
</g>
</g>
<g id="xtick_54">
<g id="line2d_86">
<g>
<path d="M 0 0 
L 0 1.3 
" transform="translate(349.580288 178.992)" style="fill-opacity: 0.6; stroke: #000000; stroke-opacity: 0.6; stroke-width: 0.8"/>
</g>
</g>
</g>
<g id="xtick_55">
<g id="line2d_87">
<g>
<path d="M 0 0 
L 0 1.3 
" transform="translate(352.905283 178.992)" style="fill-opacity: 0.6; stroke: #000000; stroke-opacity: 0.6; stroke-width: 0.8"/>
</g>
</g>
</g>
<g id="xtick_56">
<g id="line2d_88">
<g>
<path d="M 0 0 
L 0 1.3 
" transform="translate(355.716526 178.992)" style="fill-opacity: 0.6; stroke: #000000; stroke-opacity: 0.6; stroke-width: 0.8"/>
</g>
</g>
</g>
<g id="xtick_57">
<g id="line2d_89">
<g>
<path d="M 0 0 
L 0 1.3 
" transform="translate(358.151735 178.992)" style="fill-opacity: 0.6; stroke: #000000; stroke-opacity: 0.6; stroke-width: 0.8"/>
</g>
</g>
</g>
<g id="xtick_58">
<g id="line2d_90">
<g>
<path d="M 0 0 
L 0 1.3 
" transform="translate(360.299742 178.992)" style="fill-opacity: 0.6; stroke: #000000; stroke-opacity: 0.6; stroke-width: 0.8"/>
</g>
</g>
</g>
<g id="xtick_59">
<g id="line2d_91">
<g>
<path d="M 0 0 
L 0 1.3 
" transform="translate(374.862112 178.992)" style="fill-opacity: 0.6; stroke: #000000; stroke-opacity: 0.6; stroke-width: 0.8"/>
</g>
</g>
</g>
<g id="xtick_60">
<g id="line2d_92">
<g>
<path d="M 0 0 
L 0 1.3 
" transform="translate(382.256571 178.992)" style="fill-opacity: 0.6; stroke: #000000; stroke-opacity: 0.6; stroke-width: 0.8"/>
</g>
</g>
</g>
<g id="xtick_61">
<g id="line2d_93">
<g>
<path d="M 0 0 
L 0 1.3 
" transform="translate(387.503024 178.992)" style="fill-opacity: 0.6; stroke: #000000; stroke-opacity: 0.6; stroke-width: 0.8"/>
</g>
</g>
</g>
<g id="xtick_62">
<g id="line2d_94">
<g>
<path d="M 0 0 
L 0 1.3 
" transform="translate(391.572488 178.992)" style="fill-opacity: 0.6; stroke: #000000; stroke-opacity: 0.6; stroke-width: 0.8"/>
</g>
</g>
</g>
<g id="xtick_63">
<g id="line2d_95">
<g>
<path d="M 0 0 
L 0 1.3 
" transform="translate(394.897483 178.992)" style="fill-opacity: 0.6; stroke: #000000; stroke-opacity: 0.6; stroke-width: 0.8"/>
</g>
</g>
</g>
<g id="xtick_64">
<g id="line2d_96">
<g>
<path d="M 0 0 
L 0 1.3 
" transform="translate(397.708726 178.992)" style="fill-opacity: 0.6; stroke: #000000; stroke-opacity: 0.6; stroke-width: 0.8"/>
</g>
</g>
</g>
<g id="xtick_65">
<g id="line2d_97">
<g>
<path d="M 0 0 
L 0 1.3 
" transform="translate(400.143935 178.992)" style="fill-opacity: 0.6; stroke: #000000; stroke-opacity: 0.6; stroke-width: 0.8"/>
</g>
</g>
</g>
<g id="xtick_66">
<g id="line2d_98">
<g>
<path d="M 0 0 
L 0 1.3 
" transform="translate(402.291942 178.992)" style="fill-opacity: 0.6; stroke: #000000; stroke-opacity: 0.6; stroke-width: 0.8"/>
</g>
</g>
</g>
<g id="xtick_67">
<g id="line2d_99">
<g>
<path d="M 0 0 
L 0 1.3 
" transform="translate(416.854312 178.992)" style="fill-opacity: 0.6; stroke: #000000; stroke-opacity: 0.6; stroke-width: 0.8"/>
</g>
</g>
</g>
<g id="xtick_68">
<g id="line2d_100">
<g>
<path d="M 0 0 
L 0 1.3 
" transform="translate(424.248771 178.992)" style="fill-opacity: 0.6; stroke: #000000; stroke-opacity: 0.6; stroke-width: 0.8"/>
</g>
</g>
</g>
<g id="xtick_69">
<g id="line2d_101">
<g>
<path d="M 0 0 
L 0 1.3 
" transform="translate(429.495224 178.992)" style="fill-opacity: 0.6; stroke: #000000; stroke-opacity: 0.6; stroke-width: 0.8"/>
</g>
</g>
</g>
<g id="xtick_70">
<g id="line2d_102">
<g>
<path d="M 0 0 
L 0 1.3 
" transform="translate(433.564688 178.992)" style="fill-opacity: 0.6; stroke: #000000; stroke-opacity: 0.6; stroke-width: 0.8"/>
</g>
</g>
</g>
<g id="xtick_71">
<g id="line2d_103">
<g>
<path d="M 0 0 
L 0 1.3 
" transform="translate(436.889683 178.992)" style="fill-opacity: 0.6; stroke: #000000; stroke-opacity: 0.6; stroke-width: 0.8"/>
</g>
</g>
</g>
<g id="xtick_72">
<g id="line2d_104">
<g>
<path d="M 0 0 
L 0 1.3 
" transform="translate(439.700926 178.992)" style="fill-opacity: 0.6; stroke: #000000; stroke-opacity: 0.6; stroke-width: 0.8"/>
</g>
</g>
</g>
<g id="xtick_73">
<g id="line2d_105">
<g>
<path d="M 0 0 
L 0 1.3 
" transform="translate(442.136135 178.992)" style="fill-opacity: 0.6; stroke: #000000; stroke-opacity: 0.6; stroke-width: 0.8"/>
</g>
</g>
</g>
<g id="xtick_74">
<g id="line2d_106">
<g>
<path d="M 0 0 
L 0 1.3 
" transform="translate(444.284142 178.992)" style="fill-opacity: 0.6; stroke: #000000; stroke-opacity: 0.6; stroke-width: 0.8"/>
</g>
</g>
</g>
<g id="text_17">
<g transform="translate(330.0427 207.648234)">
<text>
<tspan x="0" y="-0.498438" style="font-style: oblique; font-size: 13.9px; font-family: 'DejaVu Sans', sans-serif">k</tspan>
<tspan x="17.953446" y="-0.498438" style="font-style: oblique; font-size: 13.9px; font-family: 'DejaVu Sans', sans-serif">M</tspan>
<tspan x="29.924699" y="-0.498438" style="font-style: oblique; font-size: 13.9px; font-family: 'DejaVu Sans', sans-serif">m</tspan>
<tspan x="12.540299" y="-0.498438" style="font-size: 13.9px; font-family: 'DejaVu Sans', sans-serif">[</tspan>
<tspan x="58.792353" y="-0.498438" style="font-size: 13.9px; font-family: 'DejaVu Sans', sans-serif">]</tspan>
<tspan x="44.092139" y="-5.857813" style="font-size: 9.73px; font-family: 'DejaVu Sans', sans-serif">−</tspan>
<tspan x="52.230152" y="-5.857813" style="font-size: 9.73px; font-family: 'DejaVu Sans', sans-serif">1</tspan>
</text>
</g>
</g>
</g>
<g id="matplotlib.axis_4">
<g id="ytick_29">
<g id="line2d_107">
<g>
<path d="M 0 0 
L -2.3 0 
" transform="translate(278.2368 178.992)" style="fill-opacity: 0.66; stroke: #000000; stroke-opacity: 0.66; stroke-width: 1.1"/>
</g>
</g>
<g id="text_18">
<g transform="translate(256.5408 182.63925)">
<text>
<tspan x="0" y="0.0859" style="font-size: 9.6px; font-family: 'DejaVu Sans', sans-serif">1</tspan>
<tspan x="6.123718" y="0.0859" style="font-size: 9.6px; font-family: 'DejaVu Sans', sans-serif">0</tspan>
<tspan x="12.34314" y="-3.7422" style="font-size: 6.72px; font-family: 'DejaVu Sans', sans-serif">1</tspan>
</text>
</g>
</g>
</g>
<g id="ytick_30">
<g id="line2d_108">
<g>
<path d="M 0 0 
L -2.3 0 
" transform="translate(278.2368 121.104)" style="fill-opacity: 0.66; stroke: #000000; stroke-opacity: 0.66; stroke-width: 1.1"/>
</g>
</g>
<g id="text_19">
<g transform="translate(256.5408 124.75125)">
<text>
<tspan x="0" y="0.0859" style="font-size: 9.6px; font-family: 'DejaVu Sans', sans-serif">1</tspan>
<tspan x="6.123718" y="0.0859" style="font-size: 9.6px; font-family: 'DejaVu Sans', sans-serif">0</tspan>
<tspan x="12.34314" y="-3.7422" style="font-size: 6.72px; font-family: 'DejaVu Sans', sans-serif">2</tspan>
</text>
</g>
</g>
</g>
<g id="ytick_31">
<g id="line2d_109">
<g>
<path d="M 0 0 
L -2.3 0 
" transform="translate(278.2368 63.216)" style="fill-opacity: 0.66; stroke: #000000; stroke-opacity: 0.66; stroke-width: 1.1"/>
</g>
</g>
<g id="text_20">
<g transform="translate(256.5408 66.86325)">
<text>
<tspan x="0" y="0.0859" style="font-size: 9.6px; font-family: 'DejaVu Sans', sans-serif">1</tspan>
<tspan x="6.123718" y="0.0859" style="font-size: 9.6px; font-family: 'DejaVu Sans', sans-serif">0</tspan>
<tspan x="12.34314" y="-3.7422" style="font-size: 6.72px; font-family: 'DejaVu Sans', sans-serif">3</tspan>
</text>
</g>
</g>
</g>
<g id="ytick_32">
<g id="line2d_110">
<g>
<path d="M 0 0 
L -2.3 0 
" transform="translate(278.2368 5.328)" style="fill-opacity: 0.66; stroke: #000000; stroke-opacity: 0.66; stroke-width: 1.1"/>
</g>
</g>
<g id="text_21">
<g transform="translate(256.5408 8.97525)">
<text>
<tspan x="0" y="0.0859" style="font-size: 9.6px; font-family: 'DejaVu Sans', sans-serif">1</tspan>
<tspan x="6.123718" y="0.0859" style="font-size: 9.6px; font-family: 'DejaVu Sans', sans-serif">0</tspan>
<tspan x="12.34314" y="-3.7422" style="font-size: 6.72px; font-family: 'DejaVu Sans', sans-serif">4</tspan>
</text>
</g>
</g>
</g>
<g id="ytick_33">
<g id="line2d_111">
<g>
<path d="M 0 0 
L -1.3 0 
" transform="translate(278.2368 161.565976)" style="fill-opacity: 0.6; stroke: #000000; stroke-opacity: 0.6; stroke-width: 0.8"/>
</g>
</g>
</g>
<g id="ytick_34">
<g id="line2d_112">
<g>
<path d="M 0 0 
L -1.3 0 
" transform="translate(278.2368 151.372405)" style="fill-opacity: 0.6; stroke: #000000; stroke-opacity: 0.6; stroke-width: 0.8"/>
</g>
</g>
</g>
<g id="ytick_35">
<g id="line2d_113">
<g>
<path d="M 0 0 
L -1.3 0 
" transform="translate(278.2368 144.139951)" style="fill-opacity: 0.6; stroke: #000000; stroke-opacity: 0.6; stroke-width: 0.8"/>
</g>
</g>
</g>
<g id="ytick_36">
<g id="line2d_114">
<g>
<path d="M 0 0 
L -1.3 0 
" transform="translate(278.2368 138.530024)" style="fill-opacity: 0.6; stroke: #000000; stroke-opacity: 0.6; stroke-width: 0.8"/>
</g>
</g>
</g>
<g id="ytick_37">
<g id="line2d_115">
<g>
<path d="M 0 0 
L -1.3 0 
" transform="translate(278.2368 133.94638)" style="fill-opacity: 0.6; stroke: #000000; stroke-opacity: 0.6; stroke-width: 0.8"/>
</g>
</g>
</g>
<g id="ytick_38">
<g id="line2d_116">
<g>
<path d="M 0 0 
L -1.3 0 
" transform="translate(278.2368 130.070965)" style="fill-opacity: 0.6; stroke: #000000; stroke-opacity: 0.6; stroke-width: 0.8"/>
</g>
</g>
</g>
<g id="ytick_39">
<g id="line2d_117">
<g>
<path d="M 0 0 
L -1.3 0 
" transform="translate(278.2368 126.713927)" style="fill-opacity: 0.6; stroke: #000000; stroke-opacity: 0.6; stroke-width: 0.8"/>
</g>
</g>
</g>
<g id="ytick_40">
<g id="line2d_118">
<g>
<path d="M 0 0 
L -1.3 0 
" transform="translate(278.2368 123.75281)" style="fill-opacity: 0.6; stroke: #000000; stroke-opacity: 0.6; stroke-width: 0.8"/>
</g>
</g>
</g>
<g id="ytick_41">
<g id="line2d_119">
<g>
<path d="M 0 0 
L -1.3 0 
" transform="translate(278.2368 103.677976)" style="fill-opacity: 0.6; stroke: #000000; stroke-opacity: 0.6; stroke-width: 0.8"/>
</g>
</g>
</g>
<g id="ytick_42">
<g id="line2d_120">
<g>
<path d="M 0 0 
L -1.3 0 
" transform="translate(278.2368 93.484405)" style="fill-opacity: 0.6; stroke: #000000; stroke-opacity: 0.6; stroke-width: 0.8"/>
</g>
</g>
</g>
<g id="ytick_43">
<g id="line2d_121">
<g>
<path d="M 0 0 
L -1.3 0 
" transform="translate(278.2368 86.251951)" style="fill-opacity: 0.6; stroke: #000000; stroke-opacity: 0.6; stroke-width: 0.8"/>
</g>
</g>
</g>
<g id="ytick_44">
<g id="line2d_122">
<g>
<path d="M 0 0 
L -1.3 0 
" transform="translate(278.2368 80.642024)" style="fill-opacity: 0.6; stroke: #000000; stroke-opacity: 0.6; stroke-width: 0.8"/>
</g>
</g>
</g>
<g id="ytick_45">
<g id="line2d_123">
<g>
<path d="M 0 0 
L -1.3 0 
" transform="translate(278.2368 76.05838)" style="fill-opacity: 0.6; stroke: #000000; stroke-opacity: 0.6; stroke-width: 0.8"/>
</g>
</g>
</g>
<g id="ytick_46">
<g id="line2d_124">
<g>
<path d="M 0 0 
L -1.3 0 
" transform="translate(278.2368 72.182965)" style="fill-opacity: 0.6; stroke: #000000; stroke-opacity: 0.6; stroke-width: 0.8"/>
</g>
</g>
</g>
<g id="ytick_47">
<g id="line2d_125">
<g>
<path d="M 0 0 
L -1.3 0 
" transform="translate(278.2368 68.825927)" style="fill-opacity: 0.6; stroke: #000000; stroke-opacity: 0.6; stroke-width: 0.8"/>
</g>
</g>
</g>
<g id="ytick_48">
<g id="line2d_126">
<g>
<path d="M 0 0 
L -1.3 0 
" transform="translate(278.2368 65.86481)" style="fill-opacity: 0.6; stroke: #000000; stroke-opacity: 0.6; stroke-width: 0.8"/>
</g>
</g>
</g>
<g id="ytick_49">
<g id="line2d_127">
<g>
<path d="M 0 0 
L -1.3 0 
" transform="translate(278.2368 45.789976)" style="fill-opacity: 0.6; stroke: #000000; stroke-opacity: 0.6; stroke-width: 0.8"/>
</g>
</g>
</g>
<g id="ytick_50">
<g id="line2d_128">
<g>
<path d="M 0 0 
L -1.3 0 
" transform="translate(278.2368 35.596405)" style="fill-opacity: 0.6; stroke: #000000; stroke-opacity: 0.6; stroke-width: 0.8"/>
</g>
</g>
</g>
<g id="ytick_51">
<g id="line2d_129">
<g>
<path d="M 0 0 
L -1.3 0 
" transform="translate(278.2368 28.363951)" style="fill-opacity: 0.6; stroke: #000000; stroke-opacity: 0.6; stroke-width: 0.8"/>
</g>
</g>
</g>
<g id="ytick_52">
<g id="line2d_130">
<g>
<path d="M 0 0 
L -1.3 0 
" transform="translate(278.2368 22.754024)" style="fill-opacity: 0.6; stroke: #000000; stroke-opacity: 0.6; stroke-width: 0.8"/>
</g>
</g>
</g>
<g id="ytick_53">
<g id="line2d_131">
<g>
<path d="M 0 0 
L -1.3 0 
" transform="translate(278.2368 18.17038)" style="fill-opacity: 0.6; stroke: #000000; stroke-opacity: 0.6; stroke-width: 0.8"/>
</g>
</g>
</g>
<g id="ytick_54">
<g id="line2d_132">
<g>
<path d="M 0 0 
L -1.3 0 
" transform="translate(278.2368 14.294965)" style="fill-opacity: 0.6; stroke: #000000; stroke-opacity: 0.6; stroke-width: 0.8"/>
</g>
</g>
</g>
<g id="ytick_55">
<g id="line2d_133">
<g>
<path d="M 0 0 
L -1.3 0 
" transform="translate(278.2368 10.937927)" style="fill-opacity: 0.6; stroke: #000000; stroke-opacity: 0.6; stroke-width: 0.8"/>
</g>
</g>
</g>
<g id="ytick_56">
<g id="line2d_134">
<g>
<path d="M 0 0 
L -1.3 0 
" transform="translate(278.2368 7.97681)" style="fill-opacity: 0.6; stroke: #000000; stroke-opacity: 0.6; stroke-width: 0.8"/>
</g>
</g>
</g>
<g id="text_22">
<g transform="translate(251.598042 137.44) rotate(-90)">
<text>
<tspan x="0" y="-0.367188" style="font-style: oblique; font-size: 14.15px; font-family: 'DejaVu Sans', sans-serif">δ</tspan>
<tspan x="8.641907" y="-0.367188" style="font-style: oblique; font-size: 14.15px; font-family: 'DejaVu Sans', sans-serif">V</tspan>
<tspan x="36.057052" y="-0.367188" style="font-style: oblique; font-size: 14.15px; font-family: 'DejaVu Sans', sans-serif">k</tspan>
<tspan x="44.236861" y="-0.367188" style="font-style: oblique; font-size: 14.15px; font-family: 'DejaVu Sans', sans-serif">m</tspan>
<tspan x="70.080285" y="-0.367188" style="font-style: oblique; font-size: 14.15px; font-family: 'DejaVu Sans', sans-serif">s</tspan>
<tspan x="19.286388" y="-5.726562" style="font-size: 9.905px; font-family: 'DejaVu Sans', sans-serif">2</tspan>
<tspan x="58.647832" y="-5.726562" style="font-size: 9.905px; font-family: 'DejaVu Sans', sans-serif">2</tspan>
<tspan x="78.090865" y="-5.726562" style="font-size: 9.905px; font-family: 'DejaVu Sans', sans-serif">2</tspan>
<tspan x="30.546371" y="-0.367188" style="font-size: 14.15px; font-family: 'DejaVu Sans', sans-serif">[</tspan>
<tspan x="65.321373" y="-0.367188" style="font-size: 14.15px; font-family: 'DejaVu Sans', sans-serif">/</tspan>
<tspan x="84.764406" y="-0.367188" style="font-size: 14.15px; font-family: 'DejaVu Sans', sans-serif">]</tspan>
</text>
</g>
</g>
</g>
<g id="line2d_135">
<g clip-path="url(#p92a359c928)">
<circle cx="306.205847" cy="56.664" r="1.35" style="fill: #ff0000"/>
<circle cx="308.753446" cy="64.44" r="1.35" style="fill: #ff0000"/>
<circle cx="311.301045" cy="60.408" r="1.35" style="fill: #ff0000"/>
<circle cx="313.848644" cy="44.136" r="1.35" style="fill: #ff0000"/>
<circle cx="316.396242" cy="42.84" r="1.35" style="fill: #ff0000"/>
<circle cx="318.943841" cy="59.4" r="1.35" style="fill: #ff0000"/>
<circle cx="321.49144" cy="65.592" r="1.35" style="fill: #ff0000"/>
<circle cx="324.039039" cy="72.144" r="1.35" style="fill: #ff0000"/>
<circle cx="326.586637" cy="69.336" r="1.35" style="fill: #ff0000"/>
<circle cx="329.134236" cy="63.72" r="1.35" style="fill: #ff0000"/>
<circle cx="331.681835" cy="64.224" r="1.35" style="fill: #ff0000"/>
<circle cx="334.229434" cy="76.32" r="1.35" style="fill: #ff0000"/>
<circle cx="336.777032" cy="84.384" r="1.35" style="fill: #ff0000"/>
<circle cx="339.324631" cy="84.6" r="1.35" style="fill: #ff0000"/>
<circle cx="341.87223" cy="85.752" r="1.35" style="fill: #ff0000"/>
<circle cx="344.419829" cy="86.4" r="1.35" style="fill: #ff0000"/>
<circle cx="346.967427" cy="85.464" r="1.35" style="fill: #ff0000"/>
<circle cx="349.515026" cy="89.568" r="1.35" style="fill: #ff0000"/>
<circle cx="352.062625" cy="91.728" r="1.35" style="fill: #ff0000"/>
<circle cx="354.610224" cy="92.448" r="1.35" style="fill: #ff0000"/>
<circle cx="357.157823" cy="93.456" r="1.35" style="fill: #ff0000"/>
<circle cx="359.705421" cy="95.472" r="1.35" style="fill: #ff0000"/>
<circle cx="362.25302" cy="97.704" r="1.35" style="fill: #ff0000"/>
<circle cx="364.800619" cy="102.456" r="1.35" style="fill: #ff0000"/>
<circle cx="367.348218" cy="105.048" r="1.35" style="fill: #ff0000"/>
<circle cx="369.895816" cy="107.64" r="1.35" style="fill: #ff0000"/>
<circle cx="372.443415" cy="109.296" r="1.35" style="fill: #ff0000"/>
<circle cx="374.991014" cy="110.664" r="1.35" style="fill: #ff0000"/>
<circle cx="377.538613" cy="112.68" r="1.35" style="fill: #ff0000"/>
<circle cx="380.086211" cy="115.92" r="1.35" style="fill: #ff0000"/>
<circle cx="382.63381" cy="117.36" r="1.35" style="fill: #ff0000"/>
<circle cx="385.181409" cy="120.384" r="1.35" style="fill: #ff0000"/>
<circle cx="387.729008" cy="119.808" r="1.35" style="fill: #ff0000"/>
<circle cx="390.276607" cy="122.4" r="1.35" style="fill: #ff0000"/>
<circle cx="392.824205" cy="126.432" r="1.35" style="fill: #ff0000"/>
<circle cx="395.371804" cy="126.072" r="1.35" style="fill: #ff0000"/>
<circle cx="397.919403" cy="129.888" r="1.35" style="fill: #ff0000"/>
<circle cx="400.467002" cy="130.32" r="1.35" style="fill: #ff0000"/>
<circle cx="403.0146" cy="131.976" r="1.35" style="fill: #ff0000"/>
<circle cx="405.562199" cy="137.088" r="1.35" style="fill: #ff0000"/>
<circle cx="408.109798" cy="131.976" r="1.35" style="fill: #ff0000"/>
<circle cx="410.657397" cy="137.376" r="1.35" style="fill: #ff0000"/>
<circle cx="413.204995" cy="155.304" r="1.35" style="fill: #ff0000"/>
<circle cx="415.752594" cy="139.608" r="1.35" style="fill: #ff0000"/>
<circle cx="418.300193" cy="164.952" r="1.35" style="fill: #ff0000"/>
<circle cx="420.847792" cy="142.2" r="1.35" style="fill: #ff0000"/>
<circle cx="423.39539" cy="144.36" r="1.35" style="fill: #ff0000"/>
<circle cx="425.942989" cy="169.632" r="1.35" style="fill: #ff0000"/>
<circle cx="433.585786" cy="151.128" r="1.35" style="fill: #ff0000"/>
<circle cx="436.133384" cy="159.12" r="1.35" style="fill: #ff0000"/>
</g>
</g>
<g id="line2d_136">
<g clip-path="url(#p92a359c928)">
<circle cx="303.658248" cy="51.912" r="1.35"/>
<circle cx="306.205847" cy="51.912" r="1.35"/>
<circle cx="308.753446" cy="56.52" r="1.35"/>
<circle cx="311.301045" cy="59.04" r="1.35"/>
<circle cx="313.848644" cy="57.528" r="1.35"/>
<circle cx="316.396242" cy="58.896" r="1.35"/>
<circle cx="318.943841" cy="61.128" r="1.35"/>
<circle cx="321.49144" cy="63.288" r="1.35"/>
<circle cx="324.039039" cy="62.352" r="1.35"/>
<circle cx="326.586637" cy="61.92" r="1.35"/>
<circle cx="329.134236" cy="66.24" r="1.35"/>
<circle cx="331.681835" cy="70.776" r="1.35"/>
<circle cx="334.229434" cy="71.64" r="1.35"/>
<circle cx="336.777032" cy="72.864" r="1.35"/>
<circle cx="339.324631" cy="73.872" r="1.35"/>
<circle cx="341.87223" cy="75.096" r="1.35"/>
<circle cx="344.419829" cy="76.464" r="1.35"/>
<circle cx="346.967427" cy="77.616" r="1.35"/>
<circle cx="349.515026" cy="79.92" r="1.35"/>
<circle cx="352.062625" cy="83.736" r="1.35"/>
<circle cx="354.610224" cy="86.832" r="1.35"/>
<circle cx="357.157823" cy="88.92" r="1.35"/>
<circle cx="359.705421" cy="87.624" r="1.35"/>
<circle cx="362.25302" cy="88.776" r="1.35"/>
<circle cx="364.800619" cy="90.36" r="1.35"/>
<circle cx="367.348218" cy="92.952" r="1.35"/>
<circle cx="369.895816" cy="95.256" r="1.35"/>
<circle cx="372.443415" cy="96.624" r="1.35"/>
<circle cx="374.991014" cy="98.064" r="1.35"/>
<circle cx="377.538613" cy="100.8" r="1.35"/>
<circle cx="380.086211" cy="102.24" r="1.35"/>
<circle cx="382.63381" cy="104.184" r="1.35"/>
<circle cx="385.181409" cy="106.2" r="1.35"/>
<circle cx="387.729008" cy="108.216" r="1.35"/>
<circle cx="390.276607" cy="110.376" r="1.35"/>
<circle cx="392.824205" cy="112.68" r="1.35"/>
<circle cx="395.371804" cy="115.992" r="1.35"/>
<circle cx="397.919403" cy="117" r="1.35"/>
<circle cx="400.467002" cy="119.448" r="1.35"/>
<circle cx="403.0146" cy="121.32" r="1.35"/>
<circle cx="405.562199" cy="123.984" r="1.35"/>
<circle cx="408.109798" cy="126.504" r="1.35"/>
<circle cx="410.657397" cy="125.496" r="1.35"/>
<circle cx="413.204995" cy="130.248" r="1.35"/>
<circle cx="415.752594" cy="129.672" r="1.35"/>
<circle cx="418.300193" cy="150.336" r="1.35"/>
<circle cx="420.847792" cy="130.032" r="1.35"/>
<circle cx="423.39539" cy="134.64" r="1.35"/>
<circle cx="425.942989" cy="153.36" r="1.35"/>
<circle cx="431.038187" cy="136.008" r="1.35"/>
<circle cx="433.585786" cy="145.44" r="1.35"/>
<circle cx="436.133384" cy="149.04" r="1.35"/>
<circle cx="438.680983" cy="168.048" r="1.35"/>
</g>
</g>
<g id="line2d_137">
<path d="M 364.608 84.528 
L 403.056 115.56 
" clip-path="url(#p92a359c928)" style="fill: none; stroke: #000000; stroke-width: 0.8; stroke-linecap: square"/>
</g>
<g id="line2d_138">
<path d="M 364.464 97.272 
L 403.056 127.224 
" clip-path="url(#p92a359c928)" style="fill: none; stroke: #ff0000; stroke-width: 0.8; stroke-linecap: square"/>
</g>
<g id="patch_8">
<path d="M 278.2368 178.992 
L 278.2368 5.328 
" style="fill: none; stroke: #000000; stroke-opacity: 0.6; stroke-width: 1.15; stroke-linejoin: miter; stroke-linecap: square"/>
</g>
<g id="patch_9">
<path d="M 446.2056 178.992 
L 446.2056 5.328 
" style="fill: none; stroke: #000000; stroke-opacity: 0.6; stroke-width: 1.15; stroke-linejoin: miter; stroke-linecap: square"/>
</g>
<g id="patch_10">
<path d="M 278.2368 178.992 
L 446.2056 178.992 
" style="fill: none; stroke: #000000; stroke-opacity: 0.6; stroke-width: 1.15; stroke-linejoin: miter; stroke-linecap: square"/>
</g>
<g id="patch_11">
<path d="M 278.2368 5.328 
L 446.2056 5.328 
" style="fill: none; stroke: #000000; stroke-opacity: 0.6; stroke-width: 1.15; stroke-linejoin: miter; stroke-linecap: square"/>
</g>
</g>
<g id="text_23">
<g style="fill: #ff0000" transform="translate(120.312 22.68)">
<text>
<tspan x="1.996948" y="-0.296875" style="font-size: 10.3px; font-family: 'DejaVu Sans', sans-serif; fill: #ff0000">∥</tspan>
<tspan x="14.444059" y="-0.296875" style="font-size: 10.3px; font-family: 'DejaVu Sans', sans-serif; fill: #ff0000">−</tspan>
<tspan x="25.029386" y="-0.296875" style="font-size: 10.3px; font-family: 'DejaVu Sans', sans-serif; fill: #ff0000">0</tspan>
<tspan x="31.550748" y="-0.296875" style="font-size: 10.3px; font-family: 'DejaVu Sans', sans-serif; fill: #ff0000">.</tspan>
<tspan x="34.808927" y="-0.296875" style="font-size: 10.3px; font-family: 'DejaVu Sans', sans-serif; fill: #ff0000">6</tspan>
<tspan x="41.330289" y="-0.296875" style="font-size: 10.3px; font-family: 'DejaVu Sans', sans-serif; fill: #ff0000">4</tspan>
<tspan x="49.8486" y="-0.296875" style="font-size: 10.3px; font-family: 'DejaVu Sans', sans-serif; fill: #ff0000">±</tspan>
<tspan x="60.433927" y="-0.296875" style="font-size: 10.3px; font-family: 'DejaVu Sans', sans-serif; fill: #ff0000">0</tspan>
<tspan x="66.955289" y="-0.296875" style="font-size: 10.3px; font-family: 'DejaVu Sans', sans-serif; fill: #ff0000">.</tspan>
<tspan x="70.213468" y="-0.296875" style="font-size: 10.3px; font-family: 'DejaVu Sans', sans-serif; fill: #ff0000">0</tspan>
<tspan x="76.73483" y="-0.296875" style="font-size: 10.3px; font-family: 'DejaVu Sans', sans-serif; fill: #ff0000">1</tspan>
</text>
</g>
</g>
<g id="text_24">
<g transform="translate(120.312 38.16)">
<text>
</text><text transform="translate(2.0969 -0.578125) scale(0.84 1)" style="font-size: 10.3px; font-family: 'DejaVu Sans', sans-serif">⊥</text><text>
<tspan x="16.422299" y="-0.578125" style="font-size: 10.3px; font-family: 'DejaVu Sans', sans-serif">−</tspan>
<tspan x="27.007627" y="-0.578125" style="font-size: 10.3px; font-family: 'DejaVu Sans', sans-serif">0</tspan>
<tspan x="33.528989" y="-0.578125" style="font-size: 10.3px; font-family: 'DejaVu Sans', sans-serif">.</tspan>
<tspan x="36.787168" y="-0.578125" style="font-size: 10.3px; font-family: 'DejaVu Sans', sans-serif">6</tspan>
<tspan x="43.30853" y="-0.578125" style="font-size: 10.3px; font-family: 'DejaVu Sans', sans-serif">9</tspan>
<tspan x="51.82684" y="-0.578125" style="font-size: 10.3px; font-family: 'DejaVu Sans', sans-serif">±</tspan>
<tspan x="62.412168" y="-0.578125" style="font-size: 10.3px; font-family: 'DejaVu Sans', sans-serif">0</tspan>
<tspan x="68.93353" y="-0.578125" style="font-size: 10.3px; font-family: 'DejaVu Sans', sans-serif">.</tspan>
<tspan x="72.191709" y="-0.578125" style="font-size: 10.3px; font-family: 'DejaVu Sans', sans-serif">0</tspan>
<tspan x="78.713071" y="-0.578125" style="font-size: 10.3px; font-family: 'DejaVu Sans', sans-serif">1</tspan>
</text>
</g>
</g>
<g id="text_25">
<g style="fill: #ff0000" transform="translate(352.656 22.68)">
<text>
<tspan x="1.996948" y="-0.296875" style="font-size: 10.3px; font-family: 'DejaVu Sans', sans-serif; fill: #ff0000">∥</tspan>
<tspan x="14.444059" y="-0.296875" style="font-size: 10.3px; font-family: 'DejaVu Sans', sans-serif; fill: #ff0000">−</tspan>
<tspan x="25.029386" y="-0.296875" style="font-size: 10.3px; font-family: 'DejaVu Sans', sans-serif; fill: #ff0000">0</tspan>
<tspan x="31.550748" y="-0.296875" style="font-size: 10.3px; font-family: 'DejaVu Sans', sans-serif; fill: #ff0000">.</tspan>
<tspan x="34.808927" y="-0.296875" style="font-size: 10.3px; font-family: 'DejaVu Sans', sans-serif; fill: #ff0000">5</tspan>
<tspan x="40.580289" y="-0.296875" style="font-size: 10.3px; font-family: 'DejaVu Sans', sans-serif; fill: #ff0000">7</tspan>
<tspan x="49.0986" y="-0.296875" style="font-size: 10.3px; font-family: 'DejaVu Sans', sans-serif; fill: #ff0000">±</tspan>
<tspan x="59.683927" y="-0.296875" style="font-size: 10.3px; font-family: 'DejaVu Sans', sans-serif; fill: #ff0000">0</tspan>
<tspan x="66.205289" y="-0.296875" style="font-size: 10.3px; font-family: 'DejaVu Sans', sans-serif; fill: #ff0000">.</tspan>
<tspan x="69.463468" y="-0.296875" style="font-size: 10.3px; font-family: 'DejaVu Sans', sans-serif; fill: #ff0000">0</tspan>
<tspan x="75.98483" y="-0.296875" style="font-size: 10.3px; font-family: 'DejaVu Sans', sans-serif; fill: #ff0000">1</tspan>
</text>
</g>
</g>
<g id="text_26">
<g transform="translate(352.656 38.16)">
<text>
</text><text transform="translate(2.0969 -0.578125) scale(0.84 1)" style="font-size: 10.3px; font-family: 'DejaVu Sans', sans-serif">⊥</text><text>
<tspan x="16.422299" y="-0.578125" style="font-size: 10.3px; font-family: 'DejaVu Sans', sans-serif">−</tspan>
<tspan x="27.007627" y="-0.578125" style="font-size: 10.3px; font-family: 'DejaVu Sans', sans-serif">0</tspan>
<tspan x="33.528989" y="-0.578125" style="font-size: 10.3px; font-family: 'DejaVu Sans', sans-serif">.</tspan>
<tspan x="36.787168" y="-0.578125" style="font-size: 10.3px; font-family: 'DejaVu Sans', sans-serif">5</tspan>
<tspan x="43.30853" y="-0.578125" style="font-size: 10.3px; font-family: 'DejaVu Sans', sans-serif">8</tspan>
<tspan x="51.82684" y="-0.578125" style="font-size: 10.3px; font-family: 'DejaVu Sans', sans-serif">±</tspan>
<tspan x="62.412168" y="-0.578125" style="font-size: 10.3px; font-family: 'DejaVu Sans', sans-serif">0</tspan>
<tspan x="68.93353" y="-0.578125" style="font-size: 10.3px; font-family: 'DejaVu Sans', sans-serif">.</tspan>
<tspan x="72.191709" y="-0.578125" style="font-size: 10.3px; font-family: 'DejaVu Sans', sans-serif">0</tspan>
<tspan x="78.713071" y="-0.578125" style="font-size: 10.3px; font-family: 'DejaVu Sans', sans-serif">1</tspan>
</text>
</g>
</g>
</g>
<defs>
<clipPath id="p9e768e306a">
<rect x="45.9072" y="5.328" width="167.9328" height="173.664"/>
</clipPath>
<clipPath id="p92a359c928">
<rect x="278.2368" y="5.328" width="167.9688" height="173.664"/>
</clipPath>
</defs>
</svg>

</body></html>
